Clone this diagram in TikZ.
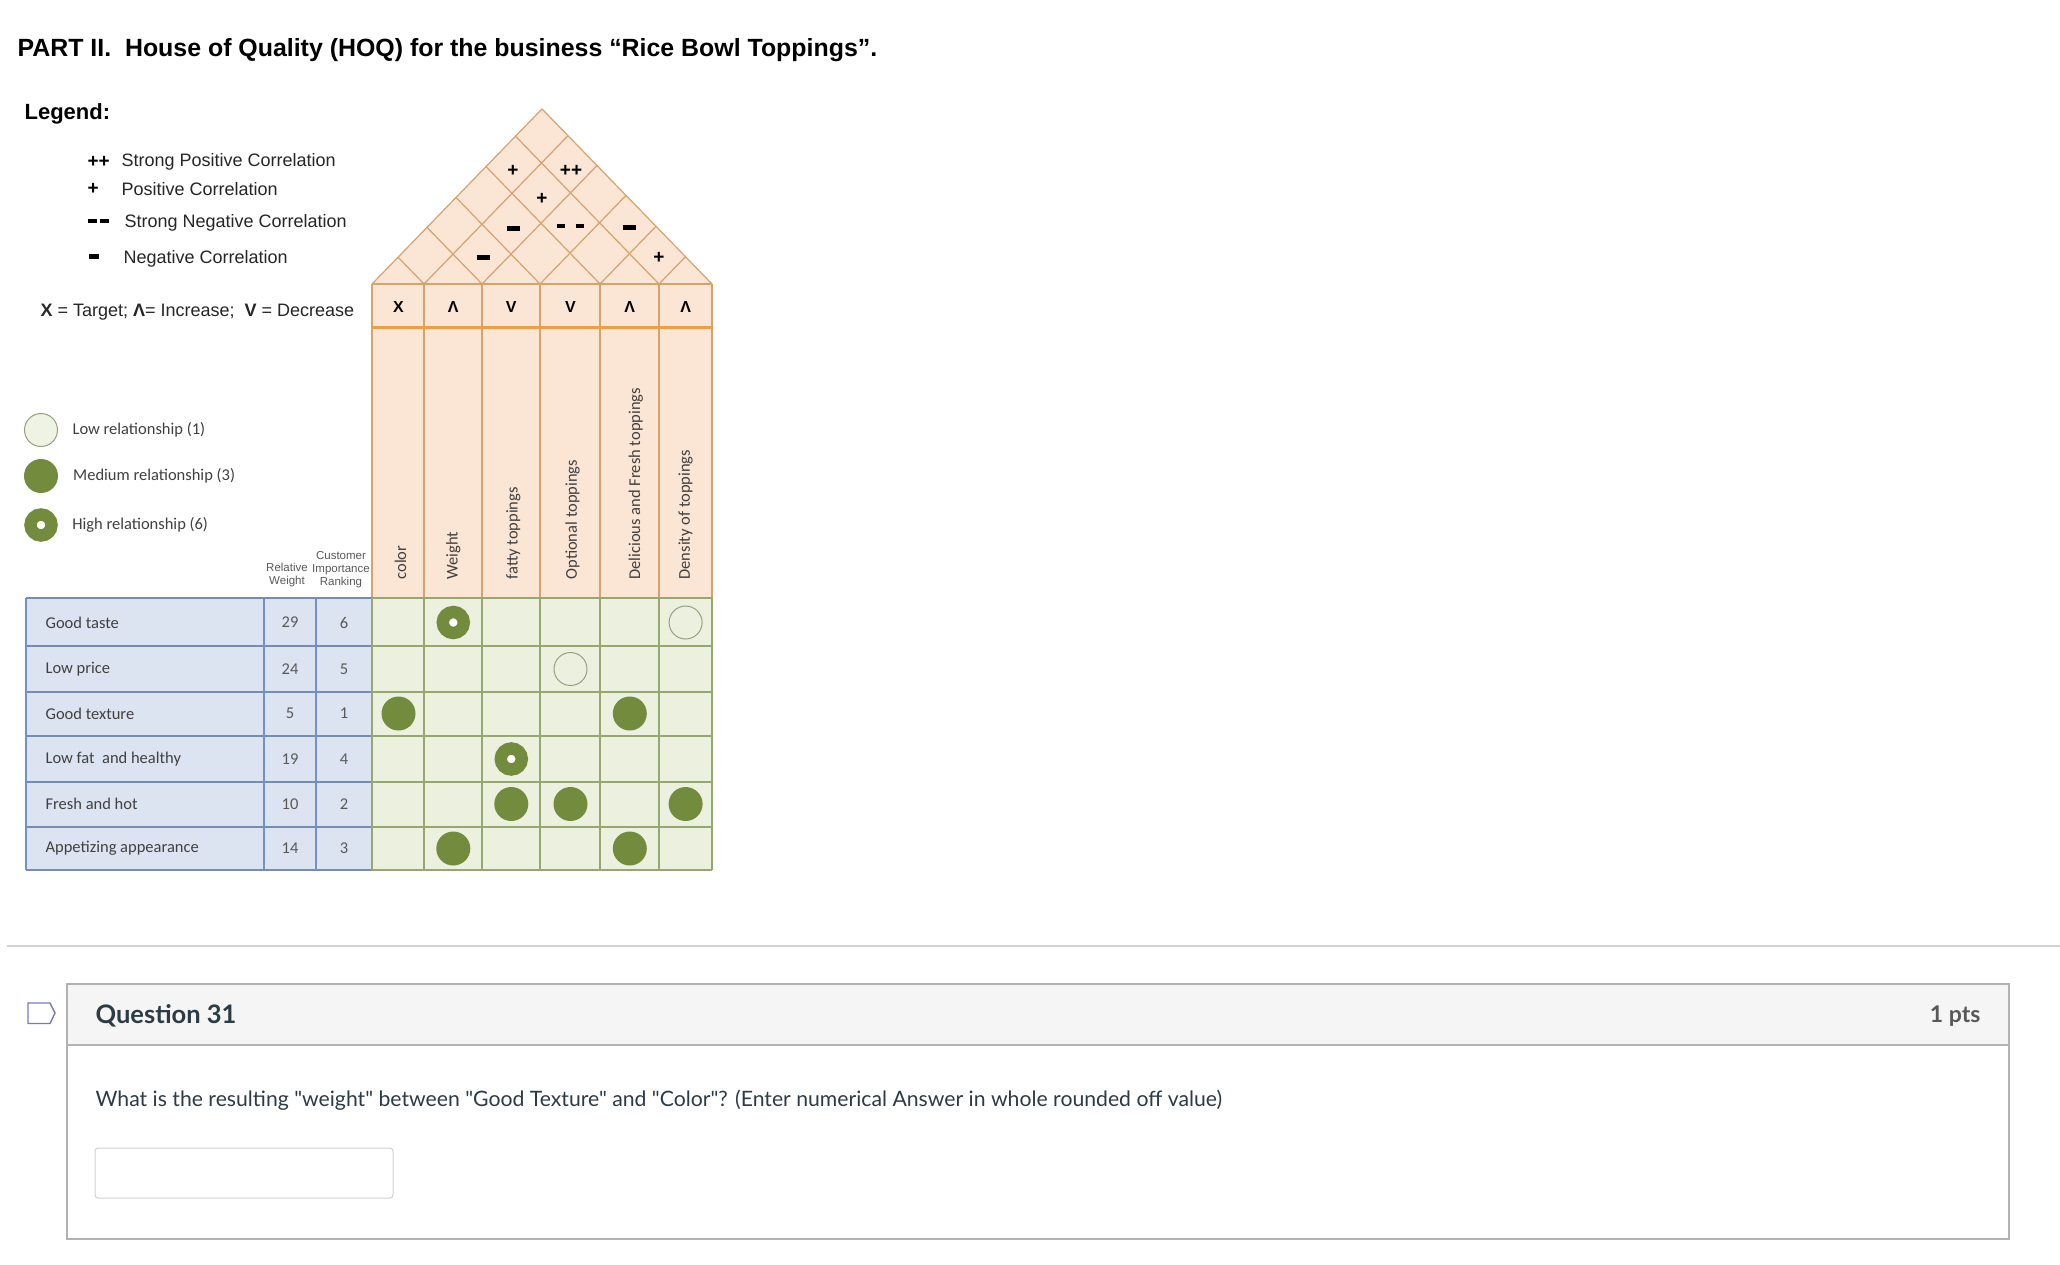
\documentclass[tikz,border=0pt]{standalone}
\usepackage{fontspec}
\setmainfont{Liberation Sans}
\newfontfamily\calibri{Carlito}
\newfontfamily\lato{Lato}
\usepackage{tikz}
\usetikzlibrary{
	positioning
}

\definecolor{roofline}{RGB}{214,162,110}
\definecolor{rooffill}{RGB}{251,229,212}
\definecolor{hoqorange}{RGB}{238,158,72}
\definecolor{gridgreen}{RGB}{150,168,112}
\definecolor{cellgreen}{RGB}{235,241,222}
\definecolor{cellblue}{RGB}{220,228,242}
\definecolor{gridblue}{RGB}{112,146,200}
\definecolor{olive}{RGB}{114,139,60}
\definecolor{lowfill}{RGB}{238,243,228}
\definecolor{lowline}{RGB}{150,160,128}
\definecolor{canvasgray}{RGB}{45,59,69}
\definecolor{headgray}{RGB}{245,245,245}

\newcommand{\thickdash}[2]{\rule[0.25em]{#1}{#2}}

\begin{document}
\begin{tikzpicture}[x=1pt,y=-1pt,line width=1.2pt,
    every node/.style={inner sep=0pt},
    legend/.style={anchor=west,font=\fontsize{18}{20}\selectfont,text=black!85},
    legsym/.style={anchor=west,font=\bfseries\fontsize{19}{20}\selectfont},
    cal/.style={font=\calibri\fontsize{16.5}{18}\selectfont,text=black!75},
    num/.style={font=\calibri\fontsize{16.5}{18}\selectfont,text=black!65},
    small/.style={font=\fontsize{11.5}{13}\selectfont,align=center,text=black!65},
    hsym/.style={font=\bfseries\fontsize{16}{18}\selectfont},
    rsym/.style={font=\bfseries\fontsize{19}{20}\selectfont},
    low/.style={circle,draw=lowline,line width=1pt,minimum size=33pt},
    medium/.style={circle,fill=olive,minimum size=34pt},
    high/.style={circle,draw=olive,fill=white,line width=12.4pt,minimum size=21pt}
]
    \useasboundingbox (0,0) rectangle (2060,1264);
    \fill[white] (0,0) rectangle (2060,1264);

    \node[anchor=west,font=\bfseries\fontsize{24.9}{28}\selectfont] (title) at (17,50)
        {PART II.\ \ House of Quality (HOQ) for the business “Rice Bowl Toppings”.};

    % legend
    \node[anchor=west,font=\bfseries\fontsize{22}{24}\selectfont] (legend) at (24,114) {Legend:};
    \node[legsym] (spp) at (87,162) {++};
    \node[legend] (tpp) at (121,162) {Strong Positive Correlation};
    \node[legsym] (sp) at (87,189) {+};
    \node[legend] (tp) at (121,189) {Positive Correlation};
    \node[legsym] (snn) at (87,223) {\thickdash{9pt}{4pt}\hspace{3pt}\thickdash{9pt}{4pt}};
    \node[legend] (tnn) at (124,223) {Strong Negative Correlation};
    \node[legsym] (sn) at (88,259) {\thickdash{10pt}{5pt}};
    \node[legend] (tn) at (123,259) {Negative Correlation};
    \node[legend] (xlegend) at (40,312)
        {\textbf{X} = Target; \textbf{Λ}= Increase;\ \ \textbf{V} = Decrease};

    \node[low,fill=lowfill] (lowc) at (41,430) {};
    \node[medium] (medc) at (41,476) {};
    \node[high] (highc) at (41,525) {};
    \node[cal,anchor=west,right=14pt of lowc] (lowt) {Low relationship (1)};
    \node[cal,anchor=west,right=14pt of medc] (medt) {Medium relationship (3)};
    \node[cal,anchor=west,right=14pt of highc] (hight) {High relationship (6)};

    \node[small] (relw) at (287,575) {Relative\\Weight};
    \node[small] (cust) at (341,570) {Customer\\Importance\\Ranking};

    % roof
    \fill[rooffill] (372,284) -- (542,108.9) -- (712,284) -- cycle;
    \foreach \b in {372,424,482,540,600,659,712}
        \draw[roofline] ({(\b+372)/2},{284-1.03*(\b-372)/2}) -- (\b,284)
            -- ({(\b+712)/2},{284-1.03*(712-\b)/2});

    \node[rsym] (p15) at (513,171) {+};
    \node[rsym] (p26) at (571,171) {++};
    \node[rsym] (p25) at (542,199) {+};
    \node[rsym] (p24) at (513,231) {\thickdash{13pt}{4.5pt}};
    \node[rsym] (p35) at (570,228) {\thickdash{8pt}{4pt}\hspace{11pt}\thickdash{8pt}{4pt}};
    \node[rsym] (p46) at (629,230) {\thickdash{13pt}{4.5pt}};
    \node[rsym] (p23) at (483,260) {\thickdash{13pt}{4.5pt}};
    \node[rsym] (p56) at (659,258) {+};

    % header and labels
    \fill[rooffill] (372,284) rectangle (712,598);
    \foreach \x in {372,424,482,540,600,659,712}
        \draw[roofline] (\x,284) -- (\x,598);
    \draw[roofline] (372,284) -- (712,284);
    \draw[hoqorange,line width=3pt] (372,327) -- (712,327);

    \foreach \n/\x in {1/398.5,2/453.3,3/511.3,4/570.5,5/629.8,6/685.6}
        \coordinate (c\n) at (\x,580);
    \foreach \n/\y in {1/622.5,2/669,3/713.5,4/759,5/804,6/848.5}
        \coordinate (r\n) at (0,\y);

    \foreach \n/\s in {1/X,2/Λ,3/V,4/V,5/Λ,6/Λ}
        \node[hsym] (dir\n) at (c\n |- 0,307) {\s};

    \foreach \n/\t/\dx in {1/color/2,2/Weight/0,3/fatty toppings/2,
            4/Optional toppings/2,5/Delicious and Fresh toppings/6,6/Density of toppings/0}
        \node[cal,rotate=90,anchor=west] (lab\n) at ([xshift=\dx pt]c\n) {\t};

    % customer needs
    \fill[cellblue] (26,598) rectangle (372,870);
    \fill[cellgreen] (372,598) rectangle (712,870);
    \foreach \y in {598,646,692,736,782,827,870} {
        \draw[gridblue!70!gray] (26,\y) -- (372,\y);
        \draw[gridgreen] (372,\y) -- (712,\y);
    }
    \foreach \x in {26,264,316}
        \draw[gridblue] (\x,598) -- (\x,870);
    \foreach \x in {372,424,482,540,600,659,712}
        \draw[gridgreen] (\x,598) -- (\x,870);

    \foreach \n/\t/\w/\k in {1/Good taste/29/6,2/Low price/24/5,3/Good texture/5/1,
            4/Low fat\ \ and healthy/19/4,5/Fresh and hot/10/2,6/Appetizing appearance/14/3} {
        \node[cal,anchor=west] (need\n) at ([xshift=45pt]r\n) {\t};
        \node[num] (w\n) at ([xshift=290pt]r\n) {\w};
        \node[num] (k\n) at ([xshift=344pt]r\n) {\k};
    }

    \node[high] (g12) at (c2 |- r1) {};
    \node[low] (g16) at (c6 |- r1) {};
    \node[low] (g24) at (c4 |- r2) {};
    \node[medium] (g31) at (c1 |- r3) {};
    \node[medium] (g35) at (c5 |- r3) {};
    \node[high] (g43) at (c3 |- r4) {};
    \node[medium] (g53) at (c3 |- r5) {};
    \node[medium] (g54) at (c4 |- r5) {};
    \node[medium] (g56) at (c6 |- r5) {};
    \node[medium] (g62) at (c2 |- r6) {};
    \node[medium] (g65) at (c5 |- r6) {};

    % question
    \draw[gray!35] (7,946) -- (2060,946);
    \draw[gray!60,fill=headgray] (67,984) rectangle (2009,1045);
    \draw[gray!60] (67,1045) rectangle (2009,1239);
    \draw[canvasgray!60!blue!60,line width=1.4pt] (28,1003) -- (50,1003) -- (55,1013)
        -- (50,1023.5) -- (28,1023.5) -- cycle;
    \node[anchor=west,font=\lato\bfseries\fontsize{25.5}{28}\selectfont,text=canvasgray] (qtitle)
        at (95,1016) {Question 31};
    \node[anchor=east,font=\lato\bfseries\fontsize{23}{26}\selectfont,text=black!65] (pts)
        at (1981,1016) {1 pts};
    \node[anchor=west,font=\lato\fontsize{21.2}{24}\selectfont,text=canvasgray] (qtext)
        at (95,1100) {What is the resulting "weight" between "Good Texture" and "Color"? (Enter numerical Answer in whole rounded off value)};
    \draw[gray!35,line width=1pt,rounded corners=3pt] (95,1148) rectangle (393,1198);
\end{tikzpicture}
\end{document}
